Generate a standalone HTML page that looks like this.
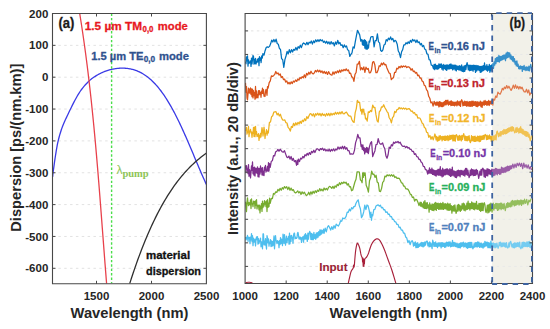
<!DOCTYPE html><html><head><meta charset="utf-8"><style>html,body{margin:0;padding:0;background:#fff;width:550px;height:329px;overflow:hidden}svg{display:block}text{font-family:"Liberation Sans",sans-serif;stroke-width:0.3px}</style></head><body>
<svg width="550" height="329" viewBox="0 0 550 329">
<rect width="550" height="329" fill="#fff"/>
<rect x="492.1" y="13.5" width="39.8" height="270" fill="#efeee3"/>
<path d="M52.5 45.35H206.4M52.5 77.2H206.4M52.5 109.05H206.4M52.5 140.9H206.4M52.5 172.75H206.4M52.5 204.6H206.4M52.5 236.45H206.4M52.5 268.3H206.4" stroke="#e2e2e2" stroke-width="1" stroke-dasharray="2.5 3.35" fill="none"/>
<path d="M245.1 30.9H532.5M245.1 54.45H532.5M245.1 78H532.5M245.1 101.55H532.5M245.1 125.1H532.5M245.1 148.65H532.5M245.1 172.2H532.5M245.1 195.75H532.5M245.1 219.3H532.5M245.1 242.85H532.5M245.1 266.4H532.5" stroke="#e2e2e2" stroke-width="1" stroke-dasharray="2.5 3.35" fill="none"/>
<defs><clipPath id="lc"><rect x="52.5" y="13.5" width="154" height="270"/></clipPath><clipPath id="rc"><rect x="245.1" y="13.5" width="287.4" height="270"/></clipPath></defs>
<g clip-path="url(#lc)" fill="none">
<path d="M52.6 177 L52.64 176.6 L52.69 176.14 L52.75 175.61 L52.81 174.97 L52.9 174.21 L53 173.31 L53.14 172.25 L53.3 171 L53.5 169.52 L53.73 167.79 L53.99 165.87 L54.27 163.83 L54.57 161.71 L54.87 159.58 L55.19 157.49 L55.5 155.5 L55.81 153.58 L56.12 151.65 L56.44 149.72 L56.77 147.79 L57.12 145.88 L57.49 143.99 L57.88 142.13 L58.3 140.3 L58.75 138.5 L59.22 136.71 L59.72 134.94 L60.24 133.2 L60.78 131.48 L61.33 129.79 L61.91 128.13 L62.5 126.5 L63.11 124.93 L63.73 123.42 L64.37 121.96 L65.03 120.51 L65.71 119.07 L66.42 117.6 L67.15 116.08 L67.9 114.5 L68.69 112.83 L69.52 111.07 L70.39 109.26 L71.27 107.44 L72.16 105.62 L73.05 103.84 L73.94 102.12 L74.8 100.5 L75.64 98.97 L76.47 97.48 L77.28 96.05 L78.1 94.66 L78.92 93.32 L79.76 92.01 L80.62 90.74 L81.5 89.5 L82.43 88.28 L83.39 87.08 L84.39 85.92 L85.39 84.79 L86.39 83.72 L87.37 82.7 L88.31 81.76 L89.2 80.89 L90.03 80.12 L90.82 79.44 L91.57 78.83 L92.31 78.28 L93.02 77.77 L93.74 77.29 L94.46 76.81 L95.2 76.33 L95.95 75.85 L96.7 75.39 L97.45 74.95 L98.2 74.53 L98.95 74.12 L99.7 73.73 L100.45 73.36 L101.2 72.99 L101.95 72.65 L102.7 72.31 L103.45 72 L104.2 71.7 L104.95 71.41 L105.7 71.13 L106.45 70.87 L107.2 70.62 L107.95 70.38 L108.7 70.16 L109.45 69.94 L110.2 69.74 L110.95 69.55 L111.7 69.38 L112.45 69.21 L113.2 69.06 L113.95 68.92 L114.7 68.79 L115.45 68.67 L116.2 68.56 L116.95 68.47 L117.7 68.39 L118.45 68.32 L119.2 68.26 L119.95 68.21 L120.7 68.18 L121.45 68.16 L122.2 68.15 L122.95 68.15 L123.7 68.17 L124.45 68.2 L125.2 68.25 L125.95 68.3 L126.7 68.38 L127.45 68.46 L128.2 68.56 L128.95 68.67 L129.7 68.8 L130.45 68.94 L131.2 69.11 L131.95 69.28 L132.7 69.47 L133.45 69.68 L134.2 69.9 L134.95 70.14 L135.7 70.39 L136.45 70.67 L137.2 70.96 L137.95 71.28 L138.7 71.6 L139.45 71.95 L140.2 72.31 L140.95 72.7 L141.7 73.1 L142.45 73.52 L143.2 73.97 L143.95 74.43 L144.7 74.92 L145.45 75.42 L146.2 75.95 L146.95 76.49 L147.7 77.06 L148.45 77.65 L149.2 78.27 L149.95 78.91 L150.7 79.56 L151.45 80.25 L152.2 80.95 L152.95 81.68 L153.7 82.43 L154.45 83.2 L155.2 84 L155.95 84.82 L156.7 85.67 L157.45 86.54 L158.2 87.44 L158.95 88.36 L159.7 89.3 L160.45 90.27 L161.2 91.26 L161.95 92.28 L162.7 93.33 L163.45 94.39 L164.2 95.49 L164.95 96.61 L165.7 97.75 L166.45 98.91 L167.2 100.1 L167.95 101.32 L168.7 102.56 L169.45 103.82 L170.2 105.11 L170.95 106.43 L171.7 107.76 L172.45 109.12 L173.2 110.5 L173.95 111.9 L174.7 113.32 L175.45 114.77 L176.2 116.25 L176.95 117.74 L177.7 119.25 L178.45 120.78 L179.2 122.33 L179.95 123.89 L180.7 125.48 L181.45 127.09 L182.2 128.72 L182.95 130.36 L183.7 132.02 L184.45 133.69 L185.2 135.37 L185.95 137.06 L186.7 138.77 L187.45 140.5 L188.2 142.24 L188.95 143.99 L189.7 145.75 L190.45 147.51 L191.2 149.27 L191.95 151.03 L192.7 152.81 L193.45 154.6 L194.2 156.39 L194.95 158.18 L195.7 159.97 L196.45 161.75 L197.2 163.52 L197.97 165.32 L198.75 167.17 L199.55 169.03 L200.34 170.88 L201.12 172.68 L201.86 174.4 L202.56 176.01 L203.2 177.47 L203.8 178.81 L204.37 180.09 L204.92 181.28 L205.42 182.38 L205.88 183.37 L206.29 184.23 L206.63 184.97 L206.9 185.55" stroke="#3a3ae6" stroke-width="1.3"/>
<path d="M128.5 287.46 L129.5 284.28 L130.5 281.15 L131.5 278.06 L132.5 275.03 L133.5 272.04 L134.5 269.1 L135.5 266.21 L136.5 263.37 L137.5 260.57 L138.5 257.82 L139.5 255.11 L140.5 252.45 L141.5 249.83 L142.5 247.26 L143.5 244.73 L144.5 242.25 L145.5 239.81 L146.5 237.41 L147.5 235.05 L148.5 232.73 L149.5 230.45 L150.5 228.22 L151.5 226.02 L152.5 223.87 L153.5 221.75 L154.5 219.67 L155.5 217.63 L156.5 215.63 L157.5 213.67 L158.5 211.74 L159.5 209.84 L160.5 207.99 L161.5 206.17 L162.5 204.38 L163.5 202.63 L164.5 200.91 L165.5 199.22 L166.5 197.57 L167.5 195.95 L168.5 194.36 L169.5 192.81 L170.5 191.28 L171.5 189.78 L172.5 188.32 L173.5 186.88 L174.5 185.48 L175.5 184.1 L176.5 182.75 L177.5 181.43 L178.5 180.14 L179.5 178.87 L180.5 177.63 L181.5 176.41 L182.5 175.22 L183.5 174.06 L184.5 172.92 L185.5 171.8 L186.5 170.7 L187.5 169.63 L188.5 168.59 L189.5 167.56 L190.5 166.56 L191.5 165.57 L192.5 164.61 L193.5 163.67 L194.5 162.75 L195.5 161.84 L196.5 160.96 L197.5 160.09 L198.5 159.24 L199.5 158.41 L200.5 157.6 L201.5 156.8 L202.5 156.02 L203.5 155.25 L204.5 154.5 L205.5 153.76 L206.5 153.04" stroke="#303030" stroke-width="1.3"/>
<path d="M79.46 12 L80.11 16 L80.74 20 L81.37 24 L81.98 28 L82.58 32 L83.16 36 L83.74 40 L84.3 44 L84.86 48 L85.4 52 L85.93 56 L86.46 60 L86.97 64 L87.47 68 L87.97 72 L88.45 76 L88.93 80 L89.39 84 L89.85 88 L90.3 92 L90.74 96 L91.18 100 L91.6 104 L92.02 108 L92.43 112 L92.84 116 L93.24 120 L93.63 124 L94.02 128 L94.39 132 L94.77 136 L95.14 140 L95.5 144 L95.86 148 L96.21 152 L96.56 156 L96.9 160 L97.24 164 L97.58 168 L97.91 172 L98.24 176 L98.56 180 L98.89 184 L99.21 188 L99.52 192 L99.84 196 L100.15 200 L100.46 204 L100.77 208 L101.08 212 L101.38 216 L101.69 220 L101.99 224 L102.3 228 L102.6 232 L102.91 236 L103.21 240 L103.52 244 L103.82 248 L104.13 252 L104.43 256 L104.74 260 L105.05 264 L105.36 268 L105.68 272 L105.99 276 L106.31 280 L106.63 284" stroke="#e8414b" stroke-width="1.3"/>
<path d="M111.6 13.5V283.5" stroke="#4ade4a" stroke-width="1.4" stroke-dasharray="2.4 2"/>
</g>
<g clip-path="url(#rc)" fill="none" stroke-width="1.25" stroke-linejoin="round">
<path d="M245.5 61.62 L246 63.8 L246.5 56.97 L247 60.94 L247.5 55.8 L248 66.24 L248.5 59.86 L249 63.28 L249.5 62.72 L250 61.84 L250.5 60.79 L251 66.37 L251.5 58.11 L252 63.88 L252.5 59.32 L253 55.5 L253.5 56.36 L254 64.24 L254.5 59.39 L255 63.41 L255.5 58.3 L256 64.16 L256.5 61.98 L257 62.31 L257.5 59.09 L258 61.54 L258.5 58.46 L259 65.67 L259.5 56.59 L260 60.45 L260.5 57.94 L261.1 62.55 L261.7 55.96 L262.3 58.21 L262.9 53.59 L264 55.13 L265.1 50.71 L266.2 47.53 L267.3 46.89 L268.4 47.35 L269.5 46.39 L270.6 43.84 L271.7 40.18 L272.8 42.03 L273.9 39.45 L275 41.95 L276.1 39.14 L277.2 43.5 L278.3 44.22 L279.4 48.33 L280.5 49.53 L281.6 58.61 L282.7 59.72 L283.8 67.34 L284.9 59.64 L286 56.01 L287.1 51.48 L288.2 53.84 L289.3 49.7 L290.4 52.77 L291.5 49.63 L292.6 52 L293.7 49.35 L294.8 50.28 L295.9 47.52 L297 50.06 L298.1 46.64 L299.2 48.23 L300.3 45.13 L301.4 47.68 L302.5 44.24 L303.6 42.96 L304.7 43.83 L305.8 44.85 L306.9 42.28 L308 44.68 L309.1 42.18 L310.2 43.07 L311.3 41.01 L312.4 44.09 L313.5 40.84 L314.6 42.63 L315.7 39.85 L316.8 41.67 L317.9 39.7 L319 41.49 L320.1 39.44 L321.2 40.93 L322.3 39.82 L323.4 42.34 L324.5 41.21 L325.6 43.15 L326.7 41.2 L327.8 43.77 L328.9 41.78 L330 44.27 L331.1 41.63 L332.2 43.85 L333.3 42.73 L334.4 45.94 L335.5 42.01 L336.6 44.3 L337.7 40.31 L338.8 43.81 L339.9 42.41 L341 45.44 L342.1 44.8 L343.2 47.67 L344.3 44.9 L345.4 47.02 L346.5 45.93 L347.6 49.81 L348.7 50.44 L349.8 56.34 L350.9 54.28 L352 52.8 L353.1 46.97 L354.2 48.03 L355.3 41.66 L356.4 35.96 L357.5 30.37 L358.6 32.61 L359.7 34.85 L360.8 41.04 L361.9 39.43 L362.5 44.91 L363.1 40.68 L363.7 45.34 L364.3 39.59 L364.9 48.15 L365.5 40.45 L366.1 49.1 L366.7 41.76 L367.3 49.23 L367.9 45.2 L368.5 48.12 L369.1 41.15 L369.7 42.13 L370.8 36.99 L371.9 36.65 L373 36.69 L374.1 46.89 L375.2 40.6 L376.3 40.57 L377.4 33.85 L378.5 41.86 L379.6 42.88 L380.7 50.59 L381.8 51.45 L382.9 49.99 L384 44.93 L385.1 44.25 L386.2 39.57 L387.3 40.99 L388.4 38.17 L389.5 39.64 L390.6 36.93 L391.7 39.87 L392.8 38.42 L393.9 41.9 L395 40.34 L396.1 41.28 L397.2 44.18 L398.3 51.03 L399.4 53.02 L400.5 57.68 L401.6 51.76 L402.7 49.61 L403.8 44.81 L404.9 44.96 L406 42.72 L407.1 43.85 L408.2 41.91 L409.3 43.26 L410.4 40.38 L411.5 42.3 L412.6 39.28 L413.7 40.96 L414.8 39.91 L415.9 42.48 L417 40.01 L418.1 42.65 L419.2 41.79 L420.3 44.91 L421.4 43.44 L422.5 46.68 L423.6 45.37 L424.7 49.07 L425.8 49.79 L426.9 53.79 L428 54.31 L429.1 59.57 L430.2 60.01 L431.3 65.04 L432.4 65.28 L433.5 68.84 L434.1 64.43 L434.7 69.72 L435.3 64.04 L435.9 68.68 L436.5 65.28 L437.1 69.49 L437.7 65.48 L438.3 68.84 L438.9 63.93 L439.5 67.99 L440.1 64.22 L440.7 67.43 L441.3 63.9 L441.9 69.06 L442.5 65.03 L443.1 70.16 L443.7 64.49 L444.3 68.68 L444.9 65.33 L445.5 69.73 L446.1 64.78 L446.7 70.38 L447.3 64.83 L447.9 68.82 L448.5 65.16 L449.1 69.16 L449.7 64.38 L450.3 68.66 L450.9 63.94 L451.5 68.53 L452.1 64.76 L452.7 69.96 L453.3 65.18 L453.9 69 L454.5 65.15 L455.1 70.02 L455.7 65.1 L456.3 70.99 L456.9 65.95 L457.5 69.29 L458.1 66.24 L458.7 69.9 L459.3 65.67 L459.9 70.04 L460.5 66.13 L461.1 70.71 L461.7 64.97 L462.3 71.4 L462.9 66.86 L463.5 71.64 L464.1 65.77 L464.7 71.44 L465.3 65.42 L465.9 69.72 L466.5 64.99 L467.1 62.58 L467.7 65.33 L468.3 69.9 L468.9 65.08 L469.5 70.6 L470.1 65.23 L470.7 70.32 L471.3 65.31 L471.9 70.23 L472.5 65.41 L473.1 71.25 L473.7 65.08 L474.3 69.51 L474.9 65.45 L475.5 72.34 L476.1 65.48 L476.7 71.04 L477.3 65.57 L477.9 69.98 L478.5 65.94 L479.1 70.51 L479.7 66.42 L480.3 72.43 L480.9 66.4 L481.5 71.86 L482.1 66.02 L482.7 70.95 L483.3 65.6 L483.9 70.29 L484.5 62.94 L485.1 69.33 L485.7 66.04 L486.3 70.06 L486.9 64.62 L487.5 71.18 L488.1 66.38 L488.7 70.22 L489.3 64.36 L489.9 72.29 L490.5 65.7 L491.1 70.97 L491.7 64.99 L492.3 68.84 L492.9 63.7 L493.5 68.33 L494.1 61.88 L494.7 65.23 L495.3 58.6 L495.9 63.7 L496.5 57.65 L497.1 61.56 L497.7 57.12 L498.3 61.59 L498.9 55.35 L499.5 62.04 L500.1 56.32 L500.7 60.52 L501.3 56.31 L501.9 60.22 L502.5 55.58 L503.1 59.4 L503.7 55.21 L504.3 58.99 L504.9 54.82 L505.5 60.66 L506.1 53.2 L506.7 58.17 L507.3 52.06 L507.9 57.42 L508.5 52.59 L509.1 56.94 L509.7 52.88 L510.3 58.93 L510.9 54.89 L511.5 59.72 L512.1 56.37 L512.7 61.13 L513.3 56.62 L513.9 61.93 L514.5 58.73 L515.1 64.08 L515.7 61.48 L516.3 65.95 L516.9 60.91 L517.5 66.3 L518.1 64.16 L518.7 68.58 L519.3 66.25 L519.9 69.04 L520.5 65.86 L521.1 68.51 L521.7 66.37 L522.3 71.48 L522.9 66.35 L523.5 69.72 L524.1 65.41 L524.7 69.87 L525.3 67.05 L525.9 70.69 L526.5 66.91 L527.1 70.16 L527.7 67.01 L528.3 70.69 L528.9 66.17 L529.5 70.83 L530.1 67.35 L530.7 64.38 L531.3 66.78 L531.9 70.9" stroke="#0072BD"/>
<path d="M245.5 82.9 L246 92.27 L246.5 86.65 L247 98.06 L247.5 99.88 L248 94.05 L248.5 88.07 L249 92.84 L249.5 89.14 L250 93.22 L250.5 87.97 L251 94.56 L251.5 88.99 L252 96.69 L252.5 89.13 L253 97.98 L253.5 90.69 L254 95.72 L254.5 92.55 L255 99.32 L255.5 86.49 L256 98.15 L256.5 90.76 L257 97.37 L257.5 94.79 L258 97.81 L258.5 90.67 L259 94.84 L259.5 90.71 L260 94.17 L260.5 92.48 L261 97.26 L261.5 91.24 L262 93.33 L262.5 88.04 L263 93.53 L263.5 89.58 L264 96.11 L264.5 95.19 L265 96.51 L265.5 91.33 L266 89.35 L266.5 91.98 L267 95.26 L267.5 86.68 L268.1 88.09 L269.2 82.54 L270.3 80.81 L271.4 75.87 L272.5 76.35 L273.6 75.68 L274.7 74.43 L275.8 71.47 L276.9 73.85 L278 72.86 L279.1 75.14 L280.2 74.03 L281.3 77.47 L282.4 76.55 L283.5 79.61 L284.6 79.09 L285.7 82.06 L286.8 80.88 L287.9 83.9 L289 82.38 L290.1 84.05 L291.2 81.87 L292.3 83.56 L293.4 81.06 L294.5 81.98 L295.6 79.99 L296.7 81.42 L297.8 78.9 L298.9 80.16 L300 77.43 L301.1 78.53 L302.2 76.54 L303.3 77.82 L304.4 74.82 L305.5 77.48 L306.6 73.45 L307.7 75.01 L308.8 72.23 L309.9 74.08 L311 71.25 L312.1 73.23 L313.2 73.94 L314.3 72.89 L315.4 70.45 L316.5 71.94 L317.6 69.96 L318.7 71.82 L319.8 70.27 L320.9 72.5 L322 70.89 L323.1 73.29 L324.2 71.37 L325.3 73.56 L326.4 71.86 L327.5 74.45 L328.6 71.61 L329.7 73.82 L330.8 74.74 L331.9 75.18 L333 71.89 L334.1 74.27 L335.2 71.75 L336.3 73.13 L337.4 70.91 L338.5 72.67 L339.6 70.1 L340.7 72.27 L341.8 69.8 L342.9 71.02 L344 69.45 L345.1 70.6 L346.2 68.8 L347.3 70.79 L348.4 69.88 L349.5 73.3 L350.6 73.1 L351.7 76.82 L352.8 77.33 L353.9 81.41 L355 74.31 L356.1 72.54 L357.2 64.17 L358.3 64.02 L359.4 61.35 L360.5 69.94 L361.6 67.66 L362.7 69.66 L363.8 66.89 L364.9 72.35 L366 67.17 L367.1 69.33 L368.2 68.49 L369.3 72.96 L370.4 72.73 L371.5 69.97 L372.6 62.34 L373.7 61.55 L374.8 64.68 L375.9 72.7 L377 72.69 L378.1 69.96 L379.2 65.73 L380.3 66.27 L381.4 63.2 L382.5 64.84 L383.6 62.74 L384.7 64.79 L385.8 64.45 L386.9 67.91 L388 70.41 L389.1 73.05 L390.2 73.63 L391.3 79.74 L392.4 78.3 L393.5 77.72 L394.6 72.4 L395.7 72.4 L396.8 68.22 L397.9 68.91 L399 66.49 L400.1 67.78 L401.2 65.91 L402.3 67.27 L403.4 65.96 L404.5 66.74 L405.6 65.94 L406.7 67.59 L407.8 66.88 L408.9 66.95 L410 68 L411.1 70.26 L412.2 68.7 L413.3 71.62 L414.4 71.18 L415.5 73.13 L416.6 72.4 L417.7 75.72 L418.8 75.15 L419.9 78.05 L421 77.98 L422.1 80.91 L423.2 81.7 L424.3 85.33 L425.4 86.11 L426.5 89.63 L427.6 91.19 L428.7 96.26 L429.8 98.24 L430.9 102.86 L432 101.99 L433.1 106.11 L434.2 101.33 L435.3 105.15 L435.9 102.44 L436.5 105.22 L437.1 101.75 L437.7 105.09 L438.3 102.36 L438.9 106.86 L439.5 101.6 L440.1 106.14 L440.7 102.17 L441.3 106.63 L441.9 102.75 L442.5 106.72 L443.1 102.31 L443.7 106.23 L444.3 101.61 L444.9 104.91 L445.5 100.46 L446.1 104.8 L446.7 100.28 L447.3 104.02 L447.9 100.23 L448.5 105.2 L449.1 101.94 L449.7 104.42 L450.3 101.15 L450.9 105.55 L451.5 100.99 L452.1 105.35 L452.7 101.97 L453.3 105.29 L453.9 102.21 L454.5 105.79 L455.1 102.01 L455.7 105.03 L456.3 102.13 L456.9 105.98 L457.5 100.79 L458.1 104.88 L458.7 101.95 L459.3 105.5 L459.9 101.45 L460.5 106.42 L461.1 101.07 L461.7 99.76 L462.3 101.25 L462.9 105.82 L463.5 102.19 L464.1 105.49 L464.7 101.23 L465.3 105.32 L465.9 101.55 L466.5 106.2 L467.1 101.45 L467.7 105.82 L468.3 102.23 L468.9 106.23 L469.5 101.68 L470.1 106.43 L470.7 101.54 L471.3 106.08 L471.9 101.18 L472.5 106.09 L473.1 101.06 L473.7 105.33 L474.3 101.86 L474.9 105.42 L475.5 101.51 L476.1 106.46 L476.7 101.83 L477.3 106.59 L477.9 101.71 L478.5 105.9 L479.1 102.65 L479.7 105.25 L480.3 101.01 L480.9 106.74 L481.5 102.21 L482.1 107.43 L482.7 102.06 L483.3 105.01 L483.9 101 L484.5 105.21 L485.1 100.4 L485.7 104.37 L486.3 101.49 L486.9 105.48 L487.5 101.5 L488.1 104.88 L488.7 100.49 L489.3 105.5 L489.9 101.36 L490.5 103.92 L491.1 100.85 L491.7 104.21 L492.3 100.69 L492.9 105.04 L493.5 99.12 L494.6 100.12 L495.7 96.02 L496.8 97.28 L497.9 92.1 L499 93.55 L500.1 94.26 L501.2 92.06 L502.3 88.39 L503.4 89.79 L504.5 87.11 L505.6 88.53 L506.7 85.59 L507.8 88.17 L508.9 86.22 L510 88.51 L511.1 90.44 L512.2 88.35 L513.3 85.14 L514.4 88.37 L515.5 84.9 L516.6 88.3 L517.7 86.25 L518.8 89.05 L519.9 86.58 L521 88.82 L522.1 87.17 L523.2 90.1 L524.3 91.8 L525.4 91.99 L526.5 89.21 L527.6 92.78 L528.7 89.97 L529.8 95.07 L530.9 92.78 L532 93.37" stroke="#D95319"/>
<path d="M245.5 130.59 L246 130.32 L246.5 127.42 L247 134.1 L247.5 132.21 L248 131.88 L248.5 126.47 L249 136.67 L249.5 131.97 L250 130.77 L250.5 129.4 L251 132.95 L251.5 132.09 L252 137.26 L252.5 132.1 L253 133.3 L253.5 127.35 L254 136.5 L254.5 127.01 L255 136.62 L255.5 126.36 L256 134.23 L256.5 131.68 L257 136.56 L257.5 134.82 L258 135.98 L258.5 133.58 L259 140.38 L259.5 135.3 L260 137.8 L260.5 133.47 L261 136.92 L261.5 132.07 L262 127.67 L262.5 130.76 L263 136.03 L263.5 132.27 L264 127.11 L264.5 131.38 L265 138.5 L265.5 133.58 L266 133.31 L266.5 129.65 L267.1 135.26 L267.7 131.23 L268.3 132.99 L269.4 122.48 L270.5 121.84 L271.6 116.7 L272.7 115.79 L273.8 112.08 L274.9 111.82 L276 111.62 L277.1 114.86 L278.2 113.26 L279.3 115.99 L280.4 114.22 L281.5 117.82 L282.6 119.88 L283.7 120.23 L284.8 119.87 L285.9 122.69 L287 122.99 L288.1 127.44 L289.2 128.59 L290.3 131.1 L291.4 126.49 L292.5 127.43 L293.6 123.28 L294.7 125.69 L295.8 122.77 L296.9 124.88 L298 122.32 L299.1 123.95 L300.2 121.3 L301.3 123.33 L302.4 120.22 L303.5 121.54 L304.6 118.72 L305.7 120.57 L306.8 116.54 L307.9 118.51 L309 115.82 L310.1 113.72 L311.2 113.98 L312.3 115.81 L313.4 113.73 L314.5 116.84 L315.6 113.71 L316.7 115.05 L317.8 113.18 L318.9 115.24 L320 113.44 L321.1 115.88 L322.2 113.43 L323.3 115.34 L324.4 114.21 L325.5 116.09 L326.6 113.5 L327.7 115.5 L328.8 113.39 L329.9 115.77 L331 113.26 L332.1 115.07 L333.2 113.36 L334.3 114.71 L335.4 112.25 L336.5 114.22 L337.6 112.44 L338.7 114.1 L339.8 112.09 L340.9 113.8 L342 111.56 L343.1 113.58 L344.2 113.78 L345.3 112.72 L346.4 112.04 L347.5 113.92 L348.6 115.68 L349.7 116.15 L350.8 116.17 L351.9 119.69 L353 121.62 L354.1 122.36 L355.2 112.64 L356.3 108.55 L357.4 100.42 L358.5 102.34 L359.6 102.25 L360.7 110.83 L361.3 109.5 L361.9 114.06 L362.5 109.11 L363.1 111.79 L363.7 109.12 L364.3 114.57 L364.9 113.48 L365.5 118.9 L366.1 118.14 L367.2 121.11 L368.3 111.78 L369.4 112.35 L370.5 110.48 L371.6 111.63 L372.7 105.05 L373.8 107.51 L374.9 107.34 L376 114.88 L377.1 120.76 L378.2 122.01 L379.3 111.9 L380.4 110.51 L381.5 106.89 L382.6 107.07 L383.7 104.75 L384.8 107.53 L385.9 109.3 L387 111.59 L388.1 112.97 L389.2 117.74 L390.3 119.35 L391.4 122.84 L392.5 117.58 L393.6 116.47 L394.7 111.39 L395.8 112.62 L396.9 109.66 L398 109.37 L399.1 107.48 L400.2 108.84 L401.3 107.83 L402.4 109.08 L403.5 107.87 L404.6 109.09 L405.7 108.12 L406.8 109.49 L407.9 108.92 L409 108.54 L410.1 109.72 L411.2 111.29 L412.3 110.98 L413.4 113.2 L414.5 112.55 L415.6 114.97 L416.7 114.52 L417.8 118.13 L418.9 117.78 L420 118.25 L421.1 120.47 L422.2 123.24 L423.3 123.95 L424.4 127.54 L425.5 128.27 L426.6 132.23 L427.7 132.53 L428.8 137.28 L429.9 135.52 L431 139.29 L432.1 136.6 L433.2 139.84 L434.3 136.29 L434.9 134.01 L435.5 136.23 L436.1 139.93 L436.7 136.48 L437.3 141.28 L437.9 137.36 L438.5 140.62 L439.1 135.84 L439.7 140.13 L440.3 135.74 L440.9 139 L441.5 136.56 L442.1 140.84 L442.7 136.3 L443.3 139.63 L443.9 136.38 L444.5 140.38 L445.1 135.96 L445.7 140.34 L446.3 136.49 L446.9 139.87 L447.5 135.75 L448.1 140.58 L448.7 136.07 L449.3 139.86 L449.9 135.25 L450.5 139.42 L451.1 135.43 L451.7 138.98 L452.3 135.01 L452.9 140.92 L453.5 135.1 L454.1 140.72 L454.7 135.44 L455.3 141.09 L455.9 135.25 L456.5 134.65 L457.1 136.03 L457.7 140.13 L458.3 136.07 L458.9 140.39 L459.5 135.45 L460.1 139.89 L460.7 136.04 L461.3 140.89 L461.9 135.33 L462.5 139.73 L463.1 135.97 L463.7 133.62 L464.3 136.26 L464.9 140.35 L465.5 136.06 L466.1 140.69 L466.7 136.52 L467.3 140.87 L467.9 136.42 L468.5 140.2 L469.1 135.67 L469.7 140.78 L470.3 142.68 L470.9 141.23 L471.5 135.69 L472.1 140.69 L472.7 136.6 L473.3 141.08 L473.9 136.49 L474.5 141.44 L475.1 136.08 L475.7 141.42 L476.3 137.37 L476.9 140.92 L477.5 136.07 L478.1 140.98 L478.7 136.4 L479.3 141.7 L479.9 135.91 L480.5 141.26 L481.1 136.17 L481.7 139.6 L482.3 135.78 L482.9 139.46 L483.5 135.46 L484.1 139.26 L484.7 135.39 L485.3 134.44 L485.9 135.5 L486.5 139.7 L487.1 135.23 L487.7 139.48 L488.3 135.8 L488.9 138.94 L489.5 134.99 L490.1 138.81 L490.7 136.47 L491.3 141.53 L491.9 136.32 L492.5 140.8 L493.1 135.89 L493.7 140.55 L494.3 135.76 L494.9 139.31 L495.5 134.88 L496.1 139.96 L496.7 132.14 L497.3 131.11 L497.9 133.6 L498.5 136.75 L499.1 133.12 L499.7 135.87 L500.3 131.57 L500.9 136.04 L501.5 131.69 L502.1 134.03 L502.7 130.74 L503.3 134.48 L503.9 129.45 L504.5 133.58 L505.1 129.95 L505.7 133.84 L506.3 129.42 L506.9 133.42 L507.5 128.73 L508.1 132.48 L508.7 128 L509.3 131.55 L509.9 127.71 L510.5 131.01 L511.1 126.83 L511.7 131.25 L512.3 126.73 L512.9 130.81 L513.5 127.29 L514.1 130.58 L514.7 132.93 L515.3 132.2 L515.9 127.82 L516.5 132.27 L517.1 127.47 L517.7 131.54 L518.3 128.92 L518.9 133.1 L519.5 128.08 L520.1 132.42 L520.7 126.74 L521.3 132.9 L521.9 128.84 L522.5 133.81 L523.1 129.56 L523.7 134.26 L524.3 131.11 L524.9 135.43 L525.5 131.44 L526.1 136.39 L526.7 131.7 L527.3 136.13 L527.9 132.3 L528.5 137.24 L529.1 134.15 L529.7 138.28 L530.3 140.84 L530.9 138.69 L531.5 135.34" stroke="#EDB120"/>
<path d="M245.5 165.2 L246 172.61 L246.5 165.69 L247 168.82 L247.5 169.14 L248 173.73 L248.5 164.57 L249 176.32 L249.5 169.62 L250 171.22 L250.5 177.83 L251 172.45 L251.5 165.81 L252 170.36 L252.5 161.99 L253 173.83 L253.5 167.59 L254 175.23 L254.5 167.22 L255 176.08 L255.5 168.02 L256 172.64 L256.5 168.31 L257 173.27 L257.5 166.81 L258 176.61 L258.5 168.46 L259 177.04 L259.5 168.3 L260 174.08 L260.5 165.96 L261 171.92 L261.5 168.11 L262 174.93 L262.5 167.71 L263 175.1 L263.5 171.45 L264 175.52 L264.5 167.15 L265 170.12 L265.5 165.43 L266 172.08 L266.5 170.57 L267 170.18 L267.5 166.41 L268 171.45 L268.5 162.66 L269 170.89 L269.6 163.64 L270.2 167.38 L271.3 161.26 L272.4 160.74 L273.5 155.66 L274.6 155.97 L275.7 151.76 L276.8 151.26 L277.9 149.35 L279 151.25 L280.1 149.19 L281.2 150.52 L282.3 151.92 L283.4 152.17 L284.5 150.71 L285.6 153.86 L286.7 156.89 L287.8 157.69 L288.9 156.07 L290 159.15 L291.1 156.46 L292.2 160.37 L293.3 158.35 L294.4 161.72 L295.5 160.54 L296.6 165.28 L297.2 160.25 L297.8 164.44 L298.4 159.01 L299.5 161.62 L300.6 158.13 L301.7 158.99 L302.8 156.47 L303.9 157.82 L305 154.73 L306.1 155.74 L307.2 153.37 L308.3 155.1 L309.4 152.6 L310.5 154.43 L311.6 151.31 L312.7 152.73 L313.8 150.26 L314.9 152.54 L316 149.91 L317.1 148.74 L318.2 149.32 L319.3 150.64 L320.4 148.55 L321.5 149.49 L322.6 148.15 L323.7 150.47 L324.8 148.91 L325.9 151.04 L327 149.63 L328.1 151.11 L329.2 149.15 L330.3 151.51 L331.4 149.39 L332.5 150.73 L333.6 148.95 L334.7 150.85 L335.8 148.95 L336.9 149.92 L338 146.91 L339.1 149.07 L340.2 147.11 L341.3 148.68 L342.4 146.23 L343.5 148.9 L344.6 146.28 L345.7 149.23 L346.8 147.69 L347.9 150.66 L349 150.64 L350.1 154.29 L351.2 153.8 L352.3 154.19 L353.4 153.81 L354.5 150.07 L355.6 142.58 L356.7 139.37 L357.8 134.39 L358.9 138 L360 137.83 L361.1 146.53 L361.7 144.77 L362.3 149.48 L362.9 144.88 L363.5 150.55 L364.1 147.52 L364.7 153.91 L365.3 148.72 L365.9 152 L366.5 147.3 L367.1 152.38 L367.7 147.9 L368.3 153.64 L369.4 146.88 L370.5 143.19 L371.6 141.71 L372.7 156.65 L373.8 153.58 L374.9 150.91 L376 144.53 L377.1 144.39 L378.2 138.7 L379.3 142.75 L380.4 144.22 L381.5 144.03 L382.6 143 L383.7 146.41 L384.8 148.67 L385.9 155.76 L387 158.2 L388.1 154.78 L389.2 147.12 L390.3 148.37 L391.4 144.76 L392.5 145.79 L393.6 142.13 L394.7 143.32 L395.8 141.75 L396.9 142.59 L398 141.36 L399.1 143.04 L400.2 142.19 L401.3 144.7 L402.4 146.16 L403.5 146.46 L404.6 146.07 L405.7 147.62 L406.8 146.45 L407.9 148.13 L409 147.5 L410.1 149.45 L411.2 149.48 L412.3 151.5 L413.4 151.33 L414.5 154.43 L415.6 153.76 L416.7 156.64 L417.8 156.76 L418.9 159.34 L420 159.38 L421.1 161.96 L422.2 162.89 L423.3 166.35 L424.4 166.7 L425.5 169.68 L426.6 169.81 L427.7 174.22 L428.3 170.42 L428.9 173.16 L429.5 167.91 L430.1 173.11 L430.7 169.53 L431.3 173.41 L431.9 168.15 L432.5 174.46 L433.1 169.52 L433.7 174.66 L434.3 170.28 L434.9 175.43 L435.5 170.57 L436.1 176.13 L436.7 170.36 L437.3 174.8 L437.9 169.36 L438.5 175.09 L439.1 169.22 L439.7 175.12 L440.3 166.68 L440.9 175.74 L441.5 170.2 L442.1 176.99 L442.7 168.25 L443.3 176.15 L443.9 169.85 L444.5 174.92 L445.1 169.34 L445.7 174.8 L446.3 168.84 L446.9 174.13 L447.5 168.85 L448.1 174.63 L448.7 169.77 L449.3 175.3 L449.9 168.55 L450.5 176.37 L451.1 169.56 L451.7 175.85 L452.3 167.24 L452.9 175.09 L453.5 170.79 L454.1 176.23 L454.7 171.16 L455.3 177.34 L455.9 171.52 L456.5 177.6 L457.1 170.72 L457.7 175.98 L458.3 170.04 L458.9 175.72 L459.5 170.65 L460.1 176.76 L460.7 170.47 L461.3 174.63 L461.9 170.28 L462.5 174.77 L463.1 171.04 L463.7 175.33 L464.3 170.23 L464.9 176.07 L465.5 168.47 L466.1 174.3 L466.7 168.37 L467.3 175.26 L467.9 170.05 L468.5 174.42 L469.1 177.55 L469.7 176.05 L470.3 170.16 L470.9 175.45 L471.5 168.97 L472.1 174.64 L472.7 169.72 L473.3 175.7 L473.9 169.77 L474.5 175.34 L475.1 170.1 L475.7 175.29 L476.3 169.31 L476.9 174.24 L477.5 170.49 L478.1 174.63 L478.7 178.48 L479.3 175.47 L479.9 171.08 L480.5 175.1 L481.1 169.4 L481.7 175.24 L482.3 169.11 L482.9 168.21 L483.5 169.48 L484.1 176.64 L484.7 169.78 L485.3 177.43 L485.9 170.23 L486.5 175.6 L487.1 168.66 L487.7 175.85 L488.3 169.12 L488.9 173.93 L489.5 169.73 L490.1 174.37 L490.7 170.26 L491.3 174.92 L491.9 169.02 L492.5 175.66 L493.1 169.28 L493.7 175.72 L494.3 169.42 L494.9 175.15 L495.5 168.26 L496.1 173.98 L496.7 168.7 L497.3 174.78 L497.9 169.27 L498.5 173.45 L499.1 169.02 L499.7 174.41 L500.3 169.37 L500.9 174 L501.5 167.06 L502.1 172.45 L502.7 167.91 L503.3 172.59 L503.9 168.17 L504.5 172.24 L505.1 167.43 L505.7 172.13 L506.3 166.8 L506.9 171.11 L507.5 166.23 L508.1 170.92 L508.7 166.35 L509.3 170.3 L509.9 165.79 L510.5 169.08 L511.1 165.54 L511.7 168.54 L512.8 164.04 L513.9 168.01 L515 164.02 L516.1 167.31 L517.2 163.24 L518.3 165.83 L519.4 163.05 L520.5 166.43 L521.6 163.33 L522.7 168.6 L523.8 163.15 L524.9 167.38 L526 164.64 L527.1 168.12 L528.2 164.9 L529.3 168.83 L530.4 166.67 L531.5 169.93" stroke="#7E2F8E"/>
<path d="M245.5 201.69 L246 207.15 L246.5 211.57 L247 202.1 L247.5 197.89 L248 202.94 L248.5 205.68 L249 202.63 L249.5 203.64 L250 204.95 L250.5 199.8 L251 208.52 L251.5 198.92 L252 203.96 L252.5 203.75 L253 206.61 L253.5 201.21 L254 203.45 L254.5 201.45 L255 208.33 L255.5 200.96 L256 205.47 L256.5 199.56 L257 208.99 L257.5 205.72 L258 205.15 L258.5 205.35 L259 209.82 L259.5 205.05 L260 212.97 L260.5 206.23 L261 208.56 L261.5 203.66 L262 211.48 L262.5 201.01 L263 207.54 L263.5 203.7 L264 206.1 L264.5 200.52 L265 204.23 L265.5 201.88 L266 206.69 L266.5 200.89 L267 211.51 L267.5 199.69 L268 207.3 L268.5 203.27 L269 206.54 L269.6 198.15 L270.2 203.45 L271.3 198.49 L272.4 198.54 L273.5 193.49 L274.6 194.21 L275.7 191.82 L276.8 192.46 L277.9 189.42 L279 190.94 L280.1 188.35 L281.2 190.22 L282.3 187.65 L283.4 188.99 L284.5 186.53 L285.6 188.01 L286.7 186.69 L287.8 189.58 L288.9 187.09 L290 190.3 L291.1 188.03 L292.2 190.52 L293.3 189.55 L294.4 192.06 L295.5 192.97 L296.6 192.15 L297.7 190.88 L298.8 192.96 L299.9 191.67 L301 194.48 L302.1 191.83 L303.2 193.76 L304.3 192.18 L305.4 194.1 L306.5 195.64 L307.6 194.64 L308.7 192.24 L309.8 194.82 L310.9 191.83 L312 194.12 L313.1 191.26 L314.2 193.29 L315.3 190.76 L316.4 192.51 L317.5 190.13 L318.6 191.45 L319.7 188.62 L320.8 190.76 L321.9 189.24 L323 190.97 L324.1 187.99 L325.2 189.86 L326.3 188.45 L327.4 189.99 L328.5 187.42 L329.6 186.35 L330.7 187.07 L331.8 188.39 L332.9 186.34 L334 188.52 L335.1 185.81 L336.2 187.18 L337.3 184.33 L338.4 185.59 L339.5 182.72 L340.6 184.56 L341.7 182.31 L342.8 183.63 L343.9 181.91 L345 183.17 L346.1 182.17 L347.2 185.06 L348.3 183.72 L349.4 186.85 L350.5 186.61 L351.6 190.76 L352.7 190.02 L353.8 186.04 L354.9 182.02 L356 179.35 L357.1 171.79 L358.2 171.78 L359.3 172.17 L360.4 179.84 L361.5 181.01 L362.1 182.76 L362.7 172.9 L363.3 177.34 L363.9 172.54 L364.5 175.46 L365.1 172.88 L366.2 185.33 L367.3 187.95 L368.4 192.16 L369.5 180.83 L370.6 177.8 L371.7 171.14 L372.8 174.27 L373.9 174.01 L375 177.37 L376.1 175.24 L377.2 182.05 L378.3 182.99 L379.4 191.13 L380.5 191.55 L381.6 188.35 L382.7 182.33 L383.8 181.16 L384.9 176.13 L386 176.85 L387.1 174.78 L388.2 175.88 L389.3 174.79 L390.4 176.05 L391.5 174.67 L392.6 176.25 L393.7 175.02 L394.8 177.53 L395.9 176.73 L397 178.39 L398.1 178.08 L399.2 178.26 L400.3 180.19 L401.4 182.83 L402.5 183.06 L403.6 186.06 L404.7 186.21 L405.8 188.88 L406.9 188.87 L408 189.42 L409.1 191.25 L410.2 194.13 L411.3 194.55 L412.4 197.48 L413.5 196.96 L414.6 201.04 L415.7 199.35 L416.8 199.63 L417.9 202.16 L419 205.67 L420.1 202.12 L420.7 206.17 L421.3 202.4 L421.9 206.7 L422.5 203.78 L423.1 207.64 L423.7 201.85 L424.3 208.43 L424.9 200.59 L425.5 208.33 L426.1 202.94 L426.7 208.74 L427.3 202.6 L427.9 207.96 L428.5 204.81 L429.1 212.14 L429.7 202.94 L430.3 209.27 L430.9 205 L431.5 209.95 L432.1 203.89 L432.7 210.47 L433.3 204.31 L433.9 210.64 L434.5 203.07 L435.1 209.41 L435.7 202.32 L436.3 210.35 L436.9 203.42 L437.5 208.43 L438.1 203.19 L438.7 209.34 L439.3 203.57 L439.9 209.08 L440.5 203.23 L441.1 209.2 L441.7 203.73 L442.3 209.14 L442.9 202.36 L443.5 209.35 L444.1 203.79 L444.7 208.56 L445.3 203.51 L445.9 208.98 L446.5 204.01 L447.1 210.05 L447.7 203.21 L448.3 210.31 L448.9 204.03 L449.5 210.25 L450.1 203.56 L450.7 209.96 L451.3 205.61 L451.9 213.2 L452.5 206.46 L453.1 210.89 L453.7 205.53 L454.3 211.12 L454.9 204.84 L455.5 210.49 L456.1 213.31 L456.7 211.11 L457.3 205.24 L457.9 211.2 L458.5 204.28 L459.1 210.06 L459.7 205.18 L460.3 211.4 L460.9 206.01 L461.5 210.24 L462.1 203.75 L462.7 208.8 L463.3 203.04 L463.9 210.2 L464.5 203.92 L465.1 210.8 L465.7 205.92 L466.3 209.69 L466.9 203.07 L467.5 209.27 L468.1 201.19 L468.7 208.73 L469.3 203.48 L469.9 210.04 L470.5 203.65 L471.1 208.6 L471.7 201.95 L472.3 208.59 L472.9 202.87 L473.5 209.29 L474.1 203.22 L474.7 209.76 L475.3 203.47 L475.9 208.51 L476.5 201.32 L477.1 209.39 L477.7 205.15 L478.3 209.1 L478.9 203.49 L479.5 210.28 L480.1 203.3 L480.7 211.43 L481.3 203.11 L481.9 210.39 L482.5 203.06 L483.1 210.69 L483.7 204.03 L484.3 202.75 L484.9 204.7 L485.5 210.66 L486.1 212.59 L486.7 209.77 L487.3 205.21 L487.9 212.96 L488.5 204.82 L489.1 212.09 L489.7 204.17 L490.3 210.84 L490.9 203.13 L491.5 208.84 L492.1 212.13 L492.7 209.69 L493.3 203.18 L493.9 210.07 L494.5 204.55 L495.1 208.45 L495.7 203.41 L496.3 208.55 L496.9 203.4 L497.5 210.34 L498.1 203.74 L498.7 209.91 L499.3 203.64 L499.9 208.5 L500.5 203.01 L501.1 209.61 L501.7 203.01 L502.3 208.63 L502.9 204.32 L503.5 208.83 L504.1 203.4 L504.7 207.12 L505.3 210.54 L505.9 206.85 L506.5 203.58 L507.1 207.62 L507.7 202.61 L508.3 207.25 L508.9 203.09 L509.5 206.64 L510.1 202.93 L510.7 206.94 L511.3 201.04 L511.9 206.15 L512.5 200.33 L513.1 204.74 L513.7 201.18 L514.3 205.83 L514.9 200.54 L515.5 205.27 L516.1 200.75 L516.7 205 L517.3 200.22 L517.9 204.24 L518.5 200.52 L519.1 205.09 L519.7 200.63 L520.3 204.23 L520.9 199.85 L521.5 205.32 L522.1 200.33 L522.7 203.85 L523.3 200.68 L523.9 204 L524.5 199.22 L525.6 203.4 L526.7 199.42 L527.8 204.82 L528.9 200.09 L530 201.83 L531.1 198.79" stroke="#77AC30"/>
<path d="M245.5 237.01 L246 239.79 L246.5 237.43 L247 238.86 L247.5 235.45 L248 241.32 L248.5 237.13 L249 238.43 L249.5 237.41 L250 243.58 L250.5 237.1 L251 239.93 L251.5 233.61 L252 241.43 L252.5 235.52 L253 245.67 L253.5 238.19 L254 242.23 L254.5 241.19 L255 239.07 L255.5 245.83 L256 240.04 L256.5 236.95 L257 239.52 L257.5 236.57 L258 244.24 L258.5 238.52 L259 243.33 L259.5 240.84 L260 241.46 L260.5 238.09 L261 246.78 L261.5 241.75 L262 243.37 L262.5 248.77 L263 233.79 L263.5 233.92 L264 244.77 L264.5 241.26 L265 245.01 L265.5 238.74 L266 244.69 L266.5 249.02 L267 235.71 L267.5 237.99 L268 242.87 L268.5 238.8 L269 246.18 L269.5 242.44 L270 243.29 L270.5 239.61 L271 246.52 L271.5 240.78 L272 246.19 L272.5 241.33 L273 245.63 L273.5 241.93 L274 235.97 L274.5 248.78 L275 241.72 L275.5 235.51 L276 240.21 L276.5 241.33 L277 243.62 L277.5 240.68 L278 242.94 L278.5 241.43 L279 247.59 L279.5 240.55 L280 244.57 L280.5 237.51 L281 243.55 L281.5 239.05 L282 241.64 L282.5 245.59 L283 234.21 L283.5 236.88 L284 243.39 L284.5 234.62 L285 239.87 L285.5 245.08 L286 241.31 L286.5 236.08 L287 242.56 L287.5 238.71 L288 239.67 L288.5 236.48 L289 244.11 L289.5 233.14 L290 243.81 L290.5 235.98 L291 241.47 L291.5 235.29 L292 238.1 L292.5 237.5 L293 243.32 L293.5 235.28 L294 233.33 L294.5 233.07 L295 238.9 L295.5 237.04 L296 238.47 L296.5 238.32 L297 237.68 L297.5 233.14 L298 232.4 L298.5 235.45 L299 238.98 L299.5 237.02 L300 239.24 L300.5 237.17 L301 237.53 L301.5 242.48 L302 238.68 L302.5 237.15 L303 236.71 L303.5 242.16 L304 236.73 L304.5 234.94 L305 239.22 L305.5 233.53 L306.1 238.91 L306.7 235.12 L307.3 241.49 L307.9 233.13 L308.5 239.07 L309.1 233.38 L309.7 231.42 L310.3 232.71 L310.9 239.34 L311.5 233.28 L312.1 239.72 L312.7 234.02 L313.3 239.68 L313.9 232.41 L314.5 238.41 L315.1 234.57 L315.7 239.26 L316.3 232.76 L316.9 237.89 L317.5 232.57 L318.1 237.17 L318.7 231.51 L319.3 235.66 L319.9 229.96 L320.5 234.88 L321.1 229.84 L321.7 234.01 L322.3 230.53 L322.9 232.92 L323.5 229.1 L324.1 233.47 L325.2 228.06 L326.3 231.93 L327.4 227.34 L328.5 225.69 L329.6 227.54 L330.7 230.07 L331.8 226.68 L332.9 229.42 L334 225.63 L335.1 228.25 L336.2 224.05 L337.3 225.31 L338.4 226.04 L339.5 224.06 L340.6 220.75 L341.7 221.27 L342.8 217.96 L343.9 218.71 L345 218.11 L346.1 216.35 L347.2 212.16 L348.3 212.29 L349.4 209.18 L350.5 210.89 L351.6 207.67 L352.7 208.86 L353.8 206.52 L354.9 206.53 L356 203.28 L357.1 201.22 L358.2 199.86 L359.3 205.58 L360.4 208.77 L361.5 217.62 L362.6 215.76 L363.7 211.88 L364.8 205.18 L365.9 209.49 L367 205.01 L368.1 205.78 L369.2 210.46 L370.3 217.39 L370.9 212.08 L371.5 220.25 L372.1 214.73 L372.7 215.83 L373.8 209.58 L374.9 209.33 L376 206.05 L377.1 205.34 L378.2 204.79 L379.3 206.2 L380.4 205.26 L381.5 207.85 L382.6 207.43 L383.7 209.86 L384.8 209.72 L385.9 212.45 L387 211.85 L388.1 214.34 L389.2 214.03 L390.3 216.67 L391.4 216.5 L392.5 219.29 L393.6 219.47 L394.7 221.76 L395.8 221.98 L396.9 224.49 L398 224.38 L399.1 227.59 L400.2 227.19 L401.3 230.11 L402.4 230.05 L403.5 233.03 L404.6 233.08 L405.7 236.98 L406.8 238.06 L407.9 242.68 L409 240.45 L410.1 244.69 L411.2 241.38 L412.3 240.76 L412.9 242.21 L413.5 246.07 L414.1 242.92 L414.7 245.51 L415.3 241.87 L415.9 247.62 L416.5 243.39 L417.1 247.58 L417.7 242.69 L418.3 247.4 L418.9 244.31 L419.5 246.41 L420.1 243.39 L420.7 245.94 L421.3 242.42 L421.9 246.49 L422.5 242.54 L423.1 247.02 L423.7 242.64 L424.3 246.18 L424.9 241.89 L425.5 245.2 L426.1 241.83 L426.7 241.14 L427.3 241.24 L427.9 245.85 L428.5 242.97 L429.1 246.8 L429.7 241.92 L430.3 246.7 L430.9 243 L431.5 245.71 L432.1 248.7 L432.7 240.23 L433.3 242.08 L433.9 246.46 L434.5 242.55 L435.1 246.41 L435.7 241.84 L436.3 246.46 L436.9 243.57 L437.5 247.64 L438.1 242.75 L438.7 246.17 L439.3 242.85 L439.9 246.11 L440.5 242.89 L441.1 247.91 L441.7 242.65 L442.3 246.64 L442.9 242.53 L443.5 246.29 L444.1 243.27 L444.7 247.44 L445.3 243.13 L445.9 247.04 L446.5 242.23 L447.1 245.77 L447.7 242.48 L448.3 246.3 L448.9 241.85 L449.5 245.91 L450.1 241.93 L450.7 246.99 L451.3 243.24 L451.9 246.26 L452.5 240.42 L453.1 246.37 L453.7 242.5 L454.3 246.13 L454.9 242.34 L455.5 246.52 L456.1 243.3 L456.7 246.87 L457.3 243.6 L457.9 247.74 L458.5 243.86 L459.1 247.72 L459.7 243.26 L460.3 247.86 L460.9 242.56 L461.5 246.59 L462.1 242.84 L462.7 246.07 L463.3 242.24 L463.9 247.19 L464.5 243.09 L465.1 246.46 L465.7 242.8 L466.3 247.75 L466.9 243.37 L467.5 248.26 L468.1 242.55 L468.7 247.65 L469.3 242.49 L469.9 247.32 L470.5 242.48 L471.1 247.66 L471.7 242.33 L472.3 246.76 L472.9 248.84 L473.5 247.58 L474.1 243.75 L474.7 247.08 L475.3 242.51 L475.9 246.69 L476.5 242.57 L477.1 247.07 L477.7 241.92 L478.3 246.36 L478.9 242.23 L479.5 247.44 L480.1 243.35 L480.7 247.02 L481.3 243.23 L481.9 247.49 L482.5 243.84 L483.1 248.13 L483.7 243.25 L484.3 246.94 L484.9 241.44 L485.5 246.06 L486.1 242.16 L486.7 245.93 L487.3 242.21 L487.9 247.63 L488.5 242.67 L489.1 247.73 L489.7 243 L490.3 247.82 L490.9 241.08 L491.5 246.91 L492.1 243.27 L492.7 247.33 L493.3 242.98 L493.9 247.15 L494.5 243.57 L495.1 247.9 L495.7 243.62 L496.3 247.04 L496.9 243.24 L497.5 246.33 L498.1 248.26 L498.7 246.08 L499.3 242.33 L499.9 245.72 L500.5 242.05 L501.1 246.85 L501.7 243.1 L502.3 246.73 L502.9 242.77 L503.5 246.23 L504.1 242.92 L504.7 246.72 L505.3 243.12 L505.9 247.45 L506.5 242.67 L507.1 246.75 L507.7 248.03 L508.3 247.13 L508.9 242.82 L509.5 246.81 L510.1 242.21 L510.7 241.37 L511.3 243.4 L511.9 246.98 L512.5 244.11 L513.1 247.64 L513.7 243.34 L514.3 247.83 L514.9 242.73 L515.5 247.24 L516.1 243.34 L516.7 246.76 L517.3 242.56 L517.9 246.45 L518.5 242.83 L519.1 246.84 L519.7 242.07 L520.3 247.74 L520.9 248.75 L521.5 247.23 L522.1 242.49 L522.7 247.84 L523.3 242.01 L523.9 246.43 L524.5 242.45 L525.1 246.59 L525.7 242.99 L526.3 246.51 L526.9 241.89 L527.5 246.7 L528.1 241.99 L528.7 246.36 L529.3 241.37 L529.9 247.26 L530.5 242.39 L531.1 247.84 L531.7 242.22" stroke="#4DBEEE"/>
<path d="M348.2 283.8 L348.54 282.24 L349.02 279.99 L349.54 277.59 L350 275.6 L350.35 274.15 L350.65 272.96 L350.95 271.93 L351.3 271 L351.75 270.21 L352.25 269.57 L352.73 268.97 L353.1 268.3 L353.31 267.4 L353.43 266.39 L353.5 265.5 L353.6 265 L353.73 265.41 L353.85 266.46 L354 267.14 L354.2 266.5 L354.47 263.83 L354.79 259.81 L355.14 255.48 L355.5 251.9 L355.87 249.2 L356.26 246.86 L356.64 244.99 L357 243.7 L357.31 243.13 L357.6 243.19 L357.89 243.62 L358.2 244.2 L358.56 244.9 L358.94 245.83 L359.33 246.95 L359.7 248.2 L360.04 249.69 L360.36 251.42 L360.68 253.13 L361 254.6 L361.35 255.71 L361.71 256.62 L362.05 257.44 L362.3 258.3 L362.45 259.41 L362.51 260.63 L362.55 261.62 L362.6 262 L362.68 261.26 L362.75 259.73 L362.82 258.34 L362.9 258 L362.97 259.51 L363.05 262.19 L363.12 264.77 L363.2 266 L363.27 264.96 L363.35 262.53 L363.43 260.08 L363.5 259 L363.57 260.18 L363.65 262.72 L363.73 265.27 L363.8 266.5 L363.88 265.61 L363.95 263.47 L364.03 261.21 L364.1 260 L364.17 260.47 L364.24 261.91 L364.32 263.39 L364.4 264 L364.46 263.3 L364.52 261.85 L364.61 260.22 L364.8 259 L365.11 258.41 L365.51 258.12 L365.95 257.87 L366.4 257.4 L366.86 256.66 L367.34 255.79 L367.82 254.8 L368.3 253.7 L368.76 252.43 L369.21 251 L369.65 249.55 L370.1 248.2 L370.53 246.99 L370.94 245.84 L371.38 244.75 L371.9 243.7 L372.53 242.66 L373.24 241.64 L373.98 240.73 L374.7 240 L375.38 239.45 L376.06 239.04 L376.73 238.81 L377.4 238.8 L378.05 238.97 L378.69 239.32 L379.35 239.93 L380.1 240.9 L380.94 242.27 L381.86 243.98 L382.82 245.97 L383.8 248.2 L384.82 250.75 L385.88 253.62 L386.95 256.6 L388 259.5 L389.01 262.22 L390.01 264.88 L391 267.6 L392 270.5 L393.09 273.98 L394.25 277.84 L395.28 281.36 L396 283.8" stroke="#A8203A" stroke-width="1.15"/>
<path d="M245.5 282.6L249 282.2L252.5 282.8" stroke="#A8203A" stroke-width="1"/>
</g>
<rect x="492.1" y="13.5" width="39.8" height="270" fill="#ffffff" fill-opacity="0.22"/>
<path d="M52.5 13.5H206.4V283.8H52.5Z" fill="none" stroke="#484848" stroke-width="1.1"/>
<path d="M52.5 13.5h3M206.4 13.5h-3M52.5 45.35h3M206.4 45.35h-3M52.5 77.2h3M206.4 77.2h-3M52.5 109.05h3M206.4 109.05h-3M52.5 140.9h3M206.4 140.9h-3M52.5 172.75h3M206.4 172.75h-3M52.5 204.6h3M206.4 204.6h-3M52.5 236.45h3M206.4 236.45h-3M52.5 268.3h3M206.4 268.3h-3M96.5 283.8v-3M96.5 13.5v3M151.5 283.8v-3M151.5 13.5v3" stroke="#484848" stroke-width="1" fill="none"/>
<path d="M245.1 13.5H532.5V283.5H245.1Z" fill="none" stroke="#484848" stroke-width="1.1"/>
<path d="M245.1 30.9h3M532.5 30.9h-3M245.1 54.45h3M532.5 54.45h-3M245.1 78h3M532.5 78h-3M245.1 101.55h3M532.5 101.55h-3M245.1 125.1h3M532.5 125.1h-3M245.1 148.65h3M532.5 148.65h-3M245.1 172.2h3M532.5 172.2h-3M245.1 195.75h3M532.5 195.75h-3M245.1 219.3h3M532.5 219.3h-3M245.1 242.85h3M532.5 242.85h-3M245.1 266.4h3M532.5 266.4h-3M286.16 283.5v-3M286.16 13.5v3M327.21 283.5v-3M327.21 13.5v3M368.27 283.5v-3M368.27 13.5v3M409.33 283.5v-3M409.33 13.5v3M450.39 283.5v-3M450.39 13.5v3M491.44 283.5v-3M491.44 13.5v3" stroke="#484848" stroke-width="1" fill="none"/>
<g stroke="#3d63a0" stroke-width="1.8" fill="none" stroke-dasharray="5.5 5"><path d="M492.1 13.2H532" stroke-dashoffset="6.4"/><path d="M492.1 284H532" stroke-dashoffset="0.5"/><path d="M492.2 13.2V284" stroke-dashoffset="9.3"/><path d="M531.9 13.2V284" stroke-dashoffset="9.3"/></g>
<text x="48.3" y="17.6" font-size="11.5" font-weight="bold" fill="#262626" text-anchor="end">200</text>
<text x="48.3" y="49.45" font-size="11.5" font-weight="bold" fill="#262626" text-anchor="end">100</text>
<text x="48.3" y="81.3" font-size="11.5" font-weight="bold" fill="#262626" text-anchor="end">0</text>
<text x="48.3" y="113.15" font-size="11.5" font-weight="bold" fill="#262626" text-anchor="end">-100</text>
<text x="48.3" y="145" font-size="11.5" font-weight="bold" fill="#262626" text-anchor="end">-200</text>
<text x="48.3" y="176.85" font-size="11.5" font-weight="bold" fill="#262626" text-anchor="end">-300</text>
<text x="48.3" y="208.7" font-size="11.5" font-weight="bold" fill="#262626" text-anchor="end">-400</text>
<text x="48.3" y="240.55" font-size="11.5" font-weight="bold" fill="#262626" text-anchor="end">-500</text>
<text x="48.3" y="272.4" font-size="11.5" font-weight="bold" fill="#262626" text-anchor="end">-600</text>
<text x="96.5" y="300" font-size="11.5" font-weight="bold" fill="#262626" text-anchor="middle">1500</text>
<text x="151.5" y="300" font-size="11.5" font-weight="bold" fill="#262626" text-anchor="middle">2000</text>
<text x="206.5" y="300" font-size="11.5" font-weight="bold" fill="#262626" text-anchor="middle">2500</text>
<text x="245.1" y="300" font-size="11.5" font-weight="bold" fill="#262626" text-anchor="middle">1000</text>
<text x="286.16" y="300" font-size="11.5" font-weight="bold" fill="#262626" text-anchor="middle">1200</text>
<text x="327.21" y="300" font-size="11.5" font-weight="bold" fill="#262626" text-anchor="middle">1400</text>
<text x="368.27" y="300" font-size="11.5" font-weight="bold" fill="#262626" text-anchor="middle">1600</text>
<text x="409.33" y="300" font-size="11.5" font-weight="bold" fill="#262626" text-anchor="middle">1800</text>
<text x="450.39" y="300" font-size="11.5" font-weight="bold" fill="#262626" text-anchor="middle">2000</text>
<text x="491.44" y="300" font-size="11.5" font-weight="bold" fill="#262626" text-anchor="middle">2200</text>
<text x="532.5" y="300" font-size="11.5" font-weight="bold" fill="#262626" text-anchor="middle">2400</text>
<text x="129.5" y="317.7" font-size="14.7" font-weight="bold" fill="#262626" text-anchor="middle">Wavelength (nm)</text>
<text x="388.5" y="317.7" font-size="14.7" font-weight="bold" fill="#262626" text-anchor="middle">Wavelength (nm)</text>
<text transform="translate(21 147.7) rotate(-90)" font-size="14.7" font-weight="bold" fill="#262626" text-anchor="middle">Dispersion [ps/(nm.km)]</text>
<text transform="translate(237.8 148.6) rotate(-90)" font-size="14.7" font-weight="bold" fill="#262626" text-anchor="middle">Intensity (a.u., 20 dB/div)</text>
<text x="58.4" y="28.4" font-size="14" font-weight="bold" fill="#1a1a1a" stroke="#1a1a1a" textLength="15.9" lengthAdjust="spacingAndGlyphs">(a)</text>
<g fill="#e8191f" stroke="#e8191f" font-weight="bold">
<text x="84.8" y="29.7" font-size="11.2" textLength="57.2" lengthAdjust="spacingAndGlyphs">1.5 µm TM</text>
<text x="142.5" y="32.4" font-size="8.4" textLength="11" lengthAdjust="spacingAndGlyphs">0,0</text>
<text x="157.8" y="29.7" font-size="11.2" textLength="30" lengthAdjust="spacingAndGlyphs">mode</text>
</g>
<g fill="#2f528f" stroke="#2f528f" font-weight="bold">
<text x="91.3" y="59.7" font-size="11.2" textLength="52.1" lengthAdjust="spacingAndGlyphs">1.5 µm TE</text>
<text x="143.7" y="62.4" font-size="8.4" textLength="11.5" lengthAdjust="spacingAndGlyphs">0,0</text>
<text x="159" y="59.7" font-size="11.2" textLength="30" lengthAdjust="spacingAndGlyphs">mode</text>
</g>
<text x="116.4" y="174.2" font-size="12" fill="#8ec456" stroke="#8ec456" style="stroke-width:0" font-family="Liberation Serif">λ<tspan font-size="10.5" font-weight="bold" dy="2.4" font-family="Liberation Serif">pump</tspan></text>
<text x="146" y="259.1" font-size="11" font-weight="bold" fill="#111" stroke="#111" textLength="44.1" lengthAdjust="spacingAndGlyphs">material</text>
<text x="146" y="274.6" font-size="11" font-weight="bold" fill="#111" stroke="#111" textLength="55" lengthAdjust="spacingAndGlyphs">dispersion</text>
<text x="509.6" y="28.4" font-size="14" font-weight="bold" fill="#1a1a1a" stroke="#1a1a1a" textLength="15.5" lengthAdjust="spacingAndGlyphs">(b)</text>
<g fill="#2f528f" stroke="#2f528f" font-weight="bold"><text x="428.5" y="50.4" font-size="10.6" textLength="5.4" lengthAdjust="spacingAndGlyphs">E</text><text x="434.5" y="53" font-size="7.6" textLength="6" lengthAdjust="spacingAndGlyphs">in</text><text x="441" y="50.4" font-size="10.6" textLength="43.9" lengthAdjust="spacingAndGlyphs">=0.16 nJ</text></g>
<g fill="#c0232b" stroke="#c0232b" font-weight="bold"><text x="428.4" y="87.3" font-size="10.6" textLength="5.4" lengthAdjust="spacingAndGlyphs">E</text><text x="434.4" y="89.9" font-size="7.6" textLength="6" lengthAdjust="spacingAndGlyphs">in</text><text x="440.9" y="87.3" font-size="10.6" textLength="44.1" lengthAdjust="spacingAndGlyphs">=0.13 nJ</text></g>
<g fill="#f2b52a" stroke="#f2b52a" font-weight="bold"><text x="429.1" y="122.4" font-size="10.6" textLength="5.4" lengthAdjust="spacingAndGlyphs">E</text><text x="435.1" y="125" font-size="7.6" textLength="6" lengthAdjust="spacingAndGlyphs">in</text><text x="441.6" y="122.4" font-size="10.6" textLength="43.7" lengthAdjust="spacingAndGlyphs">=0.12 nJ</text></g>
<g fill="#7535a8" stroke="#7535a8" font-weight="bold"><text x="430.2" y="157.3" font-size="10.6" textLength="5.4" lengthAdjust="spacingAndGlyphs">E</text><text x="436.2" y="159.9" font-size="7.6" textLength="6" lengthAdjust="spacingAndGlyphs">in</text><text x="442.7" y="157.3" font-size="10.6" textLength="43.7" lengthAdjust="spacingAndGlyphs">=0.10 nJ</text></g>
<g fill="#27b05c" stroke="#27b05c" font-weight="bold"><text x="429.1" y="191.2" font-size="10.6" textLength="5.4" lengthAdjust="spacingAndGlyphs">E</text><text x="435.1" y="193.8" font-size="7.6" textLength="6" lengthAdjust="spacingAndGlyphs">in</text><text x="441.6" y="191.2" font-size="10.6" textLength="43.7" lengthAdjust="spacingAndGlyphs">=0.09 nJ</text></g>
<g fill="#4f81bd" stroke="#4f81bd" font-weight="bold"><text x="428.9" y="231.2" font-size="10.6" textLength="5.4" lengthAdjust="spacingAndGlyphs">E</text><text x="434.9" y="233.8" font-size="7.6" textLength="6" lengthAdjust="spacingAndGlyphs">in</text><text x="441.4" y="231.2" font-size="10.6" textLength="43.9" lengthAdjust="spacingAndGlyphs">=0.07 nJ</text></g>
<text x="319.2" y="270.6" font-size="11" font-weight="bold" fill="#9b2335" stroke="#9b2335" style="stroke-width:0.1px" textLength="28.4" lengthAdjust="spacingAndGlyphs">Input</text>
</svg></body></html>
